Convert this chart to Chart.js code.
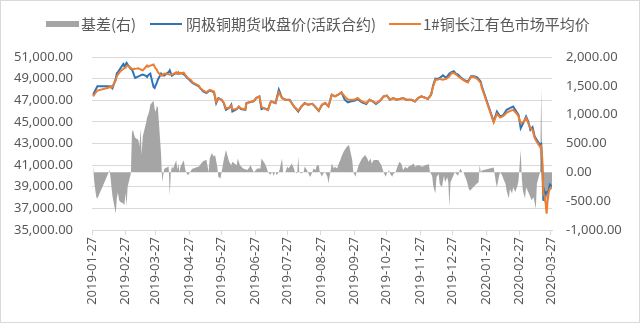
<!DOCTYPE html>
<html>
<head>
<meta charset="utf-8">
<script src="https://cdn.jsdelivr.net/npm/chart.js@4.4.0/dist/chart.umd.min.js"></script>
<style>
html,body{margin:0;padding:0;background:#fff;}
#wrap{position:relative;width:640px;height:323px;overflow:hidden;background:#fff;}
#c{position:absolute;left:0;top:0;}
.lgt{position:absolute;font-family:"Noto Sans CJK SC","Noto Sans",sans-serif;font-size:15px;color:#595959;line-height:20px;white-space:nowrap;top:14px;}
.mk{position:absolute;}
</style>
</head>
<body>
<div id="wrap">
<canvas id="c" width="640" height="323"></canvas>
<div id="legend"></div>
</div>
<script>
// ---------- data ----------
const seriesNames = ["基差(右)", "阴极铜期货收盘价(活跃合约)", "1#铜长江有色市场平均价"];

const tickLabels = ["2019-01-27","2019-02-27","2019-03-27","2019-04-27","2019-05-27","2019-06-27","2019-07-27","2019-08-27","2019-09-27","2019-10-27","2019-11-27","2019-12-27","2020-01-27","2020-02-27","2020-03-27"];

const lineDates = ["2019-01-28","2019-01-30","2019-02-01","2019-02-11","2019-02-12","2019-02-13","2019-02-14","2019-02-15","2019-02-18","2019-02-19","2019-02-20","2019-02-21","2019-02-22","2019-02-25","2019-02-26","2019-02-27","2019-02-28","2019-03-01","2019-03-04","2019-03-05","2019-03-06","2019-03-07","2019-03-08","2019-03-11","2019-03-12","2019-03-13","2019-03-14","2019-03-15","2019-03-18","2019-03-19","2019-03-20","2019-03-21","2019-03-22","2019-03-25","2019-03-26","2019-03-27","2019-03-28","2019-03-29","2019-04-01","2019-04-02","2019-04-03","2019-04-04","2019-04-08","2019-04-09","2019-04-10","2019-04-11","2019-04-12","2019-04-15","2019-04-16","2019-04-17","2019-04-18","2019-04-19","2019-04-22","2019-04-23","2019-04-24","2019-04-25","2019-04-26","2019-04-29","2019-04-30","2019-05-06","2019-05-07","2019-05-10","2019-05-13","2019-05-16","2019-05-20","2019-05-22","2019-05-24","2019-05-27","2019-05-29","2019-05-31","2019-06-03","2019-06-05","2019-06-06","2019-06-10","2019-06-12","2019-06-14","2019-06-18","2019-06-19","2019-06-21","2019-06-25","2019-06-27","2019-06-28","2019-07-01","2019-07-03","2019-07-05","2019-07-09","2019-07-11","2019-07-12","2019-07-16","2019-07-19","2019-07-22","2019-07-25","2019-07-29","2019-07-31","2019-08-02","2019-08-06","2019-08-09","2019-08-12","2019-08-15","2019-08-19","2019-08-21","2019-08-25","2019-08-28","2019-08-31","2019-09-03","2019-09-06","2019-09-09","2019-09-12","2019-09-15","2019-09-18","2019-09-21","2019-09-24","2019-09-27","2019-09-30","2019-10-04","2019-10-08","2019-10-11","2019-10-14","2019-10-17","2019-10-21","2019-10-24","2019-10-27","2019-10-30","2019-11-02","2019-11-05","2019-11-08","2019-11-11","2019-11-14","2019-11-19","2019-11-22","2019-11-25","2019-11-28","2019-12-01","2019-12-04","2019-12-07","2019-12-09","2019-12-11","2019-12-13","2019-12-15","2019-12-18","2019-12-21","2019-12-24","2019-12-26","2019-12-28","2019-12-30","2020-01-01","2020-01-04","2020-01-07","2020-01-10","2020-01-13","2020-01-16","2020-01-19","2020-01-22","2020-01-23","2020-02-03","2020-02-06","2020-02-09","2020-02-12","2020-02-15","2020-02-18","2020-02-21","2020-02-24","2020-02-26","2020-02-28","2020-03-02","2020-03-04","2020-03-06","2020-03-08","2020-03-10","2020-03-12","2020-03-14","2020-03-17","2020-03-18","2020-03-19","2020-03-20","2020-03-21","2020-03-22","2020-03-23","2020-03-24","2020-03-25","2020-03-26","2020-03-27","2020-03-28"];

const futuresPrice = [47510,47900,48284,48284,48284,48300,48284,48135,49000,49500,49600,49750,49900,50350,50150,50300,50460,50300,49900,49837,49600,49300,49065,49214,49250,49300,49350,49372,49250,49158,49300,49400,49465,48228,48135,48400,48600,48900,49465,49350,49300,49300,49600,49770,49500,49279,49350,49530,49450,49500,49450,49530,49400,49300,49200,49065,49000,48700,48600,48284,48135,47820,47670,47912,47730,46740,47205,47047,46740,46116,46275,46582,45958,46181,46423,46181,46116,46740,46795,46888,47047,47205,47354,46181,46275,46116,46740,46888,46740,47977,47205,47047,47047,46740,46423,45958,46423,46740,46582,46675,46480,46000,46582,46740,46430,47512,47354,47512,47730,47047,46795,46900,46950,47100,46800,46650,47047,46888,46650,46981,47354,47419,47047,47205,47047,47112,47205,47047,47047,46888,47205,47354,47261,47112,47512,48400,49000,48972,49065,49300,49065,49465,49600,49679,49450,49372,49065,48850,48700,49214,49214,49100,48721,48300,45028,45958,45493,45651,46116,46275,46423,45958,45651,44413,45028,45493,45028,44256,44507,43633,43326,42861,42954,40800,37700,38600,38300,38500,38500,38700,39200,39100,39100];

const spotPrice = [47354,47650,47900,48150,48200,48228,48135,48300,48850,49214,49372,49500,49650,49900,49995,50000,50150,50209,49990,49900,49850,49902,49902,49950,49900,49850,49800,49770,50100,50209,50100,50150,50200,50302,50100,49950,49837,49600,49279,49300,49400,49465,49400,49372,49400,49380,49420,49586,49500,49600,49450,49500,49550,49400,49250,49158,49050,48842,48656,48349,48135,47900,47730,47950,47800,46850,47150,47047,46800,46250,46300,46500,46150,46200,46400,46250,46150,46700,46800,46900,47047,47205,47354,46367,46275,46116,46700,46888,46740,47730,47205,47047,47000,46740,46423,46051,46423,46700,46582,46675,46480,46051,46582,46740,46430,47512,47354,47512,47730,47354,47047,47047,47047,47205,46888,46740,47047,46888,46740,46981,47354,47419,47047,47205,47047,47112,47205,47047,47047,46888,47205,47354,47261,47112,47512,48284,48900,48900,48972,48907,48972,49214,49500,49530,49400,49214,49000,48800,48650,49150,49150,48950,48600,48150,44954,45744,45400,45550,45850,46000,46116,45800,45500,44879,45028,45340,44879,44413,44256,43500,43140,42675,42768,41600,38300,38200,37600,36500,37800,38500,38800,38900,38800];

const basisDates = ["2019-01-28","2019-01-29","2019-01-30","2019-01-31","2019-02-01","2019-02-11","2019-02-12","2019-02-13","2019-02-14","2019-02-15","2019-02-18","2019-02-19","2019-02-20","2019-02-21","2019-02-22","2019-02-25","2019-02-26","2019-02-27","2019-02-28","2019-03-01","2019-03-04","2019-03-05","2019-03-06","2019-03-07","2019-03-08","2019-03-11","2019-03-12","2019-03-13","2019-03-14","2019-03-15","2019-03-18","2019-03-19","2019-03-20","2019-03-21","2019-03-22","2019-03-25","2019-03-26","2019-03-27","2019-03-28","2019-03-29","2019-04-01","2019-04-02","2019-04-03","2019-04-04","2019-04-08","2019-04-09","2019-04-10","2019-04-11","2019-04-12","2019-04-15","2019-04-16","2019-04-17","2019-04-18","2019-04-19","2019-04-22","2019-04-23","2019-04-24","2019-04-26","2019-04-29","2019-04-30","2019-05-06","2019-05-07","2019-05-08","2019-05-09","2019-05-10","2019-05-13","2019-05-15","2019-05-16","2019-05-18","2019-05-20","2019-05-21","2019-05-23","2019-05-24","2019-05-26","2019-05-27","2019-05-29","2019-05-30","2019-05-31","2019-06-03","2019-06-04","2019-06-05","2019-06-06","2019-06-10","2019-06-11","2019-06-13","2019-06-16","2019-06-20","2019-06-23","2019-06-24","2019-06-26","2019-06-29","2019-07-02","2019-07-03","2019-07-06","2019-07-08","2019-07-09","2019-07-11","2019-07-13","2019-07-14","2019-07-16","2019-07-17","2019-07-19","2019-07-20","2019-07-22","2019-07-23","2019-07-25","2019-07-27","2019-07-28","2019-07-30","2019-07-31","2019-08-02","2019-08-03","2019-08-05","2019-08-06","2019-08-07","2019-08-09","2019-08-11","2019-08-12","2019-08-14","2019-08-16","2019-08-17","2019-08-19","2019-08-20","2019-08-22","2019-08-23","2019-08-25","2019-08-26","2019-08-28","2019-08-29","2019-08-31","2019-09-02","2019-09-03","2019-09-05","2019-09-06","2019-09-08","2019-09-09","2019-09-11","2019-09-12","2019-09-14","2019-09-15","2019-09-17","2019-09-18","2019-09-20","2019-09-22","2019-09-23","2019-09-25","2019-09-26","2019-09-28","2019-09-29","2019-10-01","2019-10-04","2019-10-07","2019-10-09","2019-10-10","2019-10-12","2019-10-13","2019-10-15","2019-10-19","2019-10-21","2019-10-22","2019-10-24","2019-10-26","2019-10-27","2019-10-29","2019-10-30","2019-11-01","2019-11-02","2019-11-04","2019-11-07","2019-11-08","2019-11-10","2019-11-11","2019-11-13","2019-11-15","2019-11-16","2019-11-19","2019-11-21","2019-11-22","2019-11-25","2019-11-29","2019-12-02","2019-12-05","2019-12-06","2019-12-08","2019-12-09","2019-12-11","2019-12-12","2019-12-14","2019-12-15","2019-12-17","2019-12-19","2019-12-20","2019-12-22","2019-12-23","2019-12-24","2019-12-25","2019-12-27","2019-12-29","2020-01-01","2020-01-03","2020-01-05","2020-01-06","2020-01-09","2020-01-11","2020-01-12","2020-01-15","2020-01-18","2020-01-20","2020-01-21","2020-01-22","2020-01-23","2020-02-03","2020-02-05","2020-02-06","2020-02-08","2020-02-09","2020-02-11","2020-02-12","2020-02-14","2020-02-15","2020-02-17","2020-02-18","2020-02-20","2020-02-21","2020-02-23","2020-02-25","2020-02-26","2020-02-28","2020-02-29","2020-03-01","2020-03-03","2020-03-04","2020-03-06","2020-03-08","2020-03-09","2020-03-11","2020-03-13","2020-03-14","2020-03-16","2020-03-17","2020-03-18","2020-03-19","2020-03-20","2020-03-22","2020-03-23","2020-03-25","2020-03-26","2020-03-28"];

const basisValue = [120,-150,-300,-430,-455,-20,40,-60,-250,-420,-720,-450,-350,-480,-510,-540,-570,-360,-580,-250,-20,680,740,650,600,560,450,760,300,620,850,950,1000,1060,1170,1240,1100,1050,1150,1130,300,-170,-40,60,100,-400,0,100,60,210,50,150,0,100,210,90,0,-50,40,60,100,125,155,170,195,213,0,242,330,270,300,96,-78,-107,0,213,300,387,184,155,125,184,125,242,125,68,40,125,68,0,68,68,242,155,68,0,-40,10,-60,10,-50,0,68,242,0,0,100,68,125,155,68,0,-20,270,0,-20,10,100,40,-40,-80,0,68,40,108,126,0,-78,-20,0,-78,-194,38,155,68,97,68,126,213,270,358,387,445,474,387,213,0,-78,0,126,242,300,242,184,242,155,213,213,155,126,0,-78,-20,38,-20,-78,-30,0,155,184,126,38,97,68,97,126,155,97,126,97,126,140,0,-60,-232,-368,-87,-30,-203,-260,-58,-174,-87,-174,-601,-174,-87,0,-58,68,0,0,-145,-290,-320,-260,-203,-174,126,0,30,85,-174,-260,-58,0,-58,-116,-203,-320,-455,-290,-368,-260,-340,-232,-145,387,-87,-320,-455,-260,-340,-430,-485,-430,-630,-203,-58,0,1460,0,-485,-540,-430,-485,-203,-260];

const leftTicks = {min: 35000, max: 51000, step: 2000};
const rightTicks = {min: -1000, max: 2000, step: 500};

// ---------- helpers ----------
const BASE = Date.UTC(2019, 0, 27);
function dayOf(s) {
  const p = s.split('-').map(Number);
  return (Date.UTC(p[0], p[1] - 1, p[2]) - BASE) / 86400000;
}
function fmt(v) {
  return Number(v).toLocaleString('en-US', {minimumFractionDigits: 2, maximumFractionDigits: 2});
}
const tickDays = tickLabels.map(dayOf);
const lastDay = dayOf(lineDates[lineDates.length - 1]);

const C_GRAY = '#a5a5a5', C_BLUE = '#2e75b6', C_ORANGE = '#ed7d31';
const TXT = '#595959', GRID = '#d9d9d9';
const tickFont = {family: '"Noto Sans", sans-serif', size: 13};

// ---------- legend (HTML) ----------
(function () {
  const lg = document.getElementById('legend');
  const items = [
    {mk: {left: 46, top: 21, width: 33, height: 6, background: C_GRAY}, tx: 81, name: seriesNames[0]},
    {mk: {left: 150, top: 23, width: 32, height: 2, background: C_BLUE}, tx: 186, name: seriesNames[1]},
    {mk: {left: 389, top: 23, width: 32, height: 2, background: C_ORANGE}, tx: 423, name: seriesNames[2]}
  ];
  items.forEach(it => {
    const m = document.createElement('div');
    m.className = 'mk';
    Object.entries(it.mk).forEach(([k, v]) => m.style[k] = (typeof v === 'number' ? v + 'px' : v));
    lg.appendChild(m);
    const t = document.createElement('div');
    t.className = 'lgt';
    t.style.left = it.tx + 'px';
    t.textContent = it.name;
    lg.appendChild(t);
  });
})();

// ---------- chart ----------
const framePlugin = {
  id: 'frame',
  beforeDraw(chart) {
    const ctx = chart.ctx;
    ctx.save();
    ctx.fillStyle = '#fff';
    ctx.fillRect(0, 0, chart.width, chart.height);
    ctx.restore();
  },
  afterDraw(chart) {
    const ctx = chart.ctx;
    ctx.save();
    ctx.strokeStyle = '#d9d9d9';
    ctx.lineWidth = 1;
    ctx.strokeRect(0.5, 0.5, chart.width - 1, chart.height - 1);
    ctx.restore();
  }
};

new Chart(document.getElementById('c'), {
  type: 'line',
  data: {
    datasets: [
      {
        label: seriesNames[0],
        data: basisDates.map((d, i) => ({x: dayOf(d), y: basisValue[i]})),
        yAxisID: 'y1',
        fill: 'origin',
        backgroundColor: C_GRAY,
        borderColor: 'rgba(0,0,0,0)',
        borderWidth: 0,
        pointRadius: 0,
        tension: 0,
        order: 3
      },
      {
        label: seriesNames[1],
        data: lineDates.map((d, i) => ({x: dayOf(d), y: futuresPrice[i]})),
        yAxisID: 'y',
        fill: false,
        borderColor: C_BLUE,
        borderWidth: 2,
        pointRadius: 0,
        tension: 0,
        order: 2
      },
      {
        label: seriesNames[2],
        data: lineDates.map((d, i) => ({x: dayOf(d), y: spotPrice[i]})),
        yAxisID: 'y',
        fill: false,
        borderColor: C_ORANGE,
        borderWidth: 2,
        pointRadius: 0,
        tension: 0,
        order: 1
      }
    ]
  },
  options: {
    responsive: false,
    animation: false,
    devicePixelRatio: 1,
    layout: {padding: {top: 57, left: 0, right: 0, bottom: 0}},
    plugins: {legend: {display: false}, tooltip: {enabled: false}},
    scales: {
      x: {
        type: 'linear',
        min: 0,
        max: lastDay,
        afterBuildTicks: s => { s.ticks = tickDays.map(v => ({value: v})); },
        afterFit: s => { s.height = 93; },
        ticks: {
          autoSkip: false, minRotation: 90, maxRotation: 90,
          color: TXT, font: tickFont, padding: 2,
          callback: (v, i) => tickLabels[i]
        },
        grid: {display: true, drawOnChartArea: false, drawTicks: true, tickLength: 5, color: GRID},
        border: {display: true, color: GRID}
      },
      y: {
        position: 'left',
        min: leftTicks.min, max: leftTicks.max,
        afterFit: s => { s.width = 92; },
        ticks: {stepSize: leftTicks.step, color: TXT, font: tickFont, padding: 19, callback: v => fmt(v)},
        grid: {color: GRID, drawTicks: false},
        border: {display: false}
      },
      y1: {
        position: 'right',
        min: rightTicks.min, max: rightTicks.max,
        afterFit: s => { s.width = 88; },
        ticks: {stepSize: rightTicks.step, color: TXT, font: tickFont, padding: 14, callback: v => fmt(v)},
        grid: {display: false, drawTicks: false},
        border: {display: false}
      }
    }
  },
  plugins: [framePlugin]
});
</script>
</body>
</html>
